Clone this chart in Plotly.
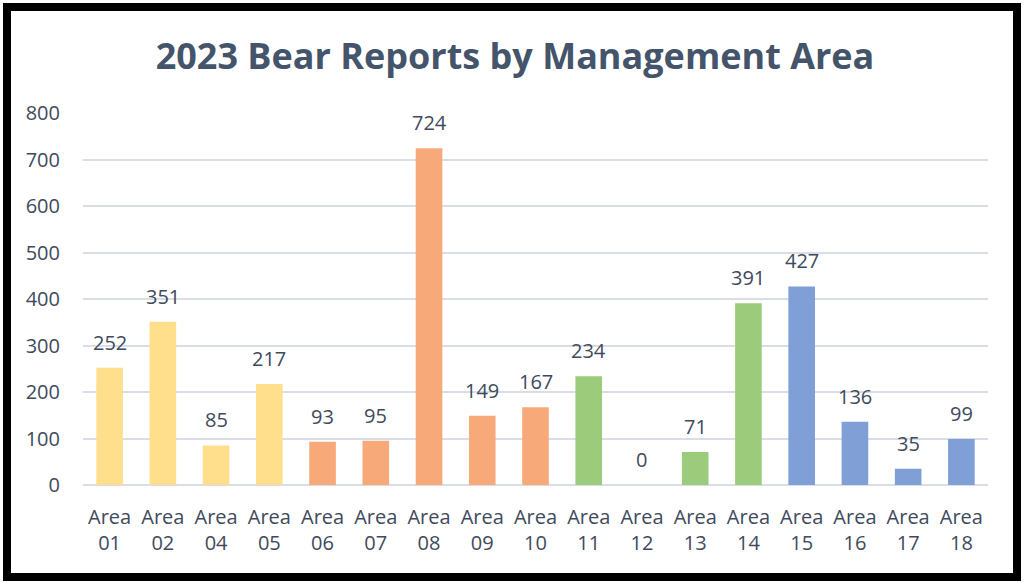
import plotly.graph_objects as go

areas = ["01", "02", "04", "05", "06", "07", "08", "09", "10", "11", "12", "13", "14", "15", "16", "17", "18"]
reports = [252, 351, 85, 217, 93, 95, 724, 149, 167, 234, 0, 71, 391, 427, 136, 35, 99]
groups = ["y", "y", "y", "y", "o", "o", "o", "o", "o", "g", "g", "g", "g", "b", "b", "b", "b"]
group_colors = {"y": "#FFDF8B", "o": "#F8A97A", "g": "#9CCB7B", "b": "#7F9FD6"}
yticks = [0, 100, 200, 300, 400, 500, 600, 700, 800]

W, H = 1024, 583
L, R, T, B = 83, 36, 113, 98
pw, ph = W - L - R, H - T - B

def px(x):
    return (x - L) / pw

def py(y):
    return (H - B - y) / ph

cats = ["Area<br>" + a for a in areas]
txt_color = "#404A5C"
FONT = "Open Sans, sans-serif"

fig = go.Figure()
fig.add_trace(go.Bar(
    x=cats, y=reports,
    marker=dict(color=[group_colors[g] for g in groups], line=dict(width=0)),
    hoverinfo="x+y",
))

for c, v in zip(cats, reports):
    fig.add_annotation(x=c, y=v, text=str(v), showarrow=False, yanchor="bottom",
                       yshift=10, font=dict(family=FONT, size=20, color=txt_color))

fig.add_shape(type="rect", xref="paper", yref="paper",
              x0=px(7), x1=px(1017), y0=py(577), y1=py(7),
              line=dict(color="black", width=8), layer="above")

fig.update_layout(
    width=W, height=H,
    margin=dict(l=L, r=R, t=T, b=B),
    paper_bgcolor="white", plot_bgcolor="white",
    bargap=0.5,
    showlegend=False,
    title=dict(text="<b>2023 Bear Reports by Management Area</b>",
               xref="container", x=515 / W, xanchor="center", y=1 - 56 / H, yanchor="middle",
               font=dict(family=FONT, size=36, color="#44546A")),
    font=dict(family=FONT, size=20, color=txt_color),
)
fig.update_yaxes(range=[0, 800], tickvals=yticks, showgrid=True, gridcolor="#D9DEE6", gridwidth=2,
                 zeroline=True, zerolinecolor="#D9DEE6", zerolinewidth=2, showline=False,
                 ticklabelstandoff=22, tickfont=dict(size=20, color=txt_color))
fig.update_xaxes(showline=False, showgrid=False, tickfont=dict(size=20, color=txt_color),
                 ticklabelstandoff=18, tickangle=0)

fig.write_html("out.html")
